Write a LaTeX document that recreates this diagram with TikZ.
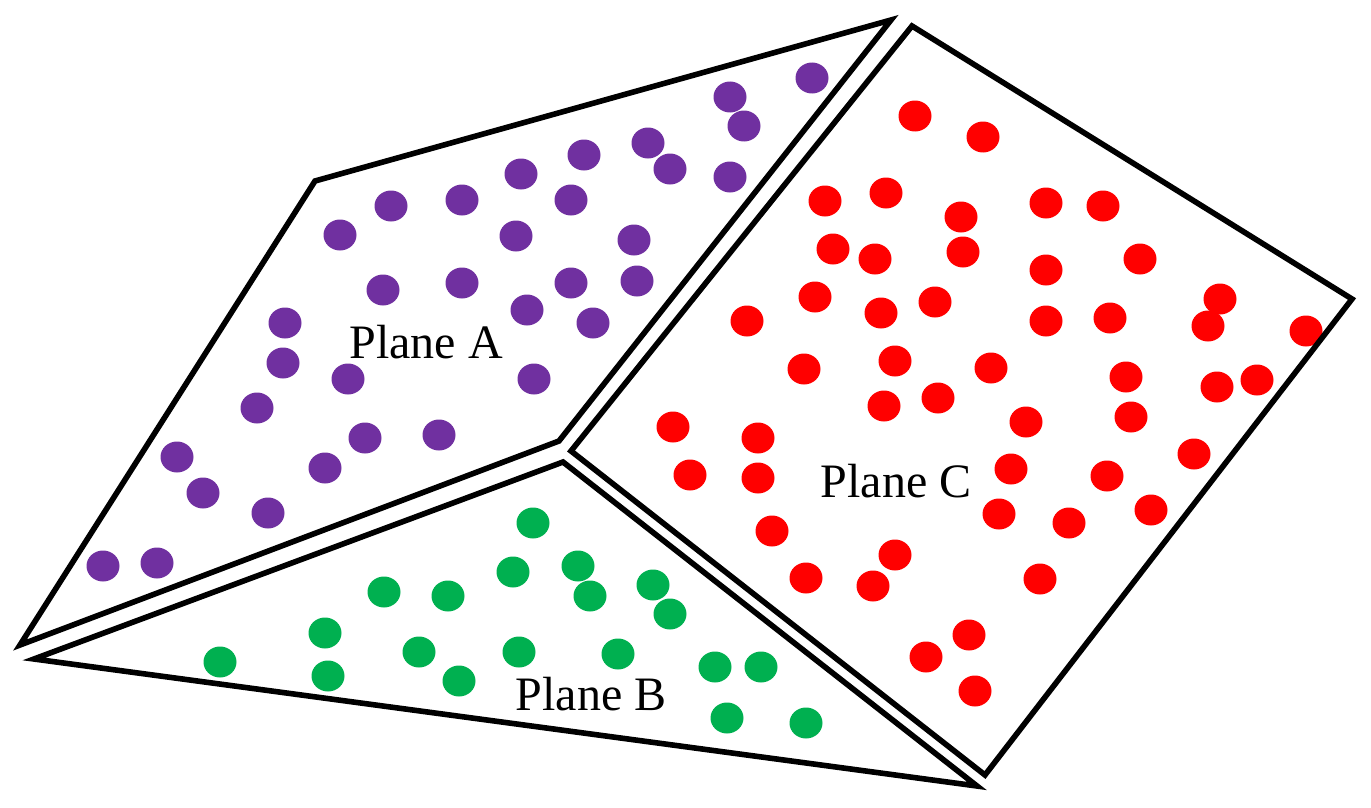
\documentclass[tikz,border=0pt]{standalone}
\usepackage{fontspec}
\setmainfont{Liberation Serif}
\definecolor{dotpurple}{HTML}{7030A0}
\definecolor{dotgreen}{HTML}{00B050}
\definecolor{dotred}{HTML}{FF0000}
\tikzset{
  planeedge/.style={draw=black, line width=5.6pt, line join=miter},
  pdot/.style={fill=dotpurple},
  gdot/.style={fill=dotgreen},
  rdot/.style={fill=dotred},
  planelabel/.style={anchor=base, inner sep=0pt, font=\fontsize{48}{58}\selectfont}
}
\begin{document}
\begin{tikzpicture}[x=1pt,y=-1pt]
\useasboundingbox (0,0) rectangle (1371,808);
% plane vertices
\coordinate (A1) at (20,645);
\coordinate (A2) at (315,181);
\coordinate (A3) at (891,20);
\coordinate (A4) at (559,441);
\coordinate (B1) at (34,659);
\coordinate (B2) at (563,462);
\coordinate (B3) at (977,786);
\coordinate (C1) at (912,26);
\coordinate (C2) at (1352,299);
\coordinate (C3) at (985,775);
\coordinate (C4) at (571,451);
% dots
\foreach \x/\y in {812/78,730/97,744/126,648/143,670/169,730/177,584/155,521/174,571/200,462/200,391/206,340/235,516/236,634/240,462/283,383/290,571/283,637/281,527/310,593/323,285/323,283/363,348/379,534/379,257/408,365/438,439/435,177/457,325/468,203/493,268/513,103/566,157/563}
  \fill[pdot] (\x,\y) ellipse (16.5 and 15.5);
\foreach \x/\y in {533/523,513/572,578/566,590/596,384/592,448/596,653/585,670/614,325/633,220/662,328/676,419/652,459/681,519/652,618/654,715/667,761/667,727/718,806/723}
  \fill[gdot] (\x,\y) ellipse (16.5 and 15.5);
\foreach \x/\y in {915/116,983/137,825/201,886/193,961/217,1046/203,1103/206,833/249,875/259,963/252,1046/270,1140/259,815/297,881/313,935/302,747/321,1046/321,1110/318,1220/299,1208/326,1306/331,804/369,895/361,991/368,1126/377,1217/387,1257/380,884/406,938/398,1026/422,1131/417,673/427,758/438,690/475,758/478,1011/469,1107/476,1194/454,999/514,1069/523,1151/510,772/531,895/555,806/578,873/586,1040/579,969/635,926/657,975/691}
  \fill[rdot] (\x,\y) ellipse (16.5 and 15.5);
% planes
\draw[planeedge] (A1) -- (A2) -- (A3) -- (A4) -- cycle;
\draw[planeedge] (B1) -- (B2) -- (B3) -- cycle;
\draw[planeedge] (C1) -- (C2) -- (C3) -- (C4) -- cycle;
% labels
\node[planelabel] (la) at (426,358) {Plane A};
\node[planelabel] (lb) at (591,710) {Plane B};
\node[planelabel] (lc) at (896,497) {Plane C};
\end{tikzpicture}
\end{document}
